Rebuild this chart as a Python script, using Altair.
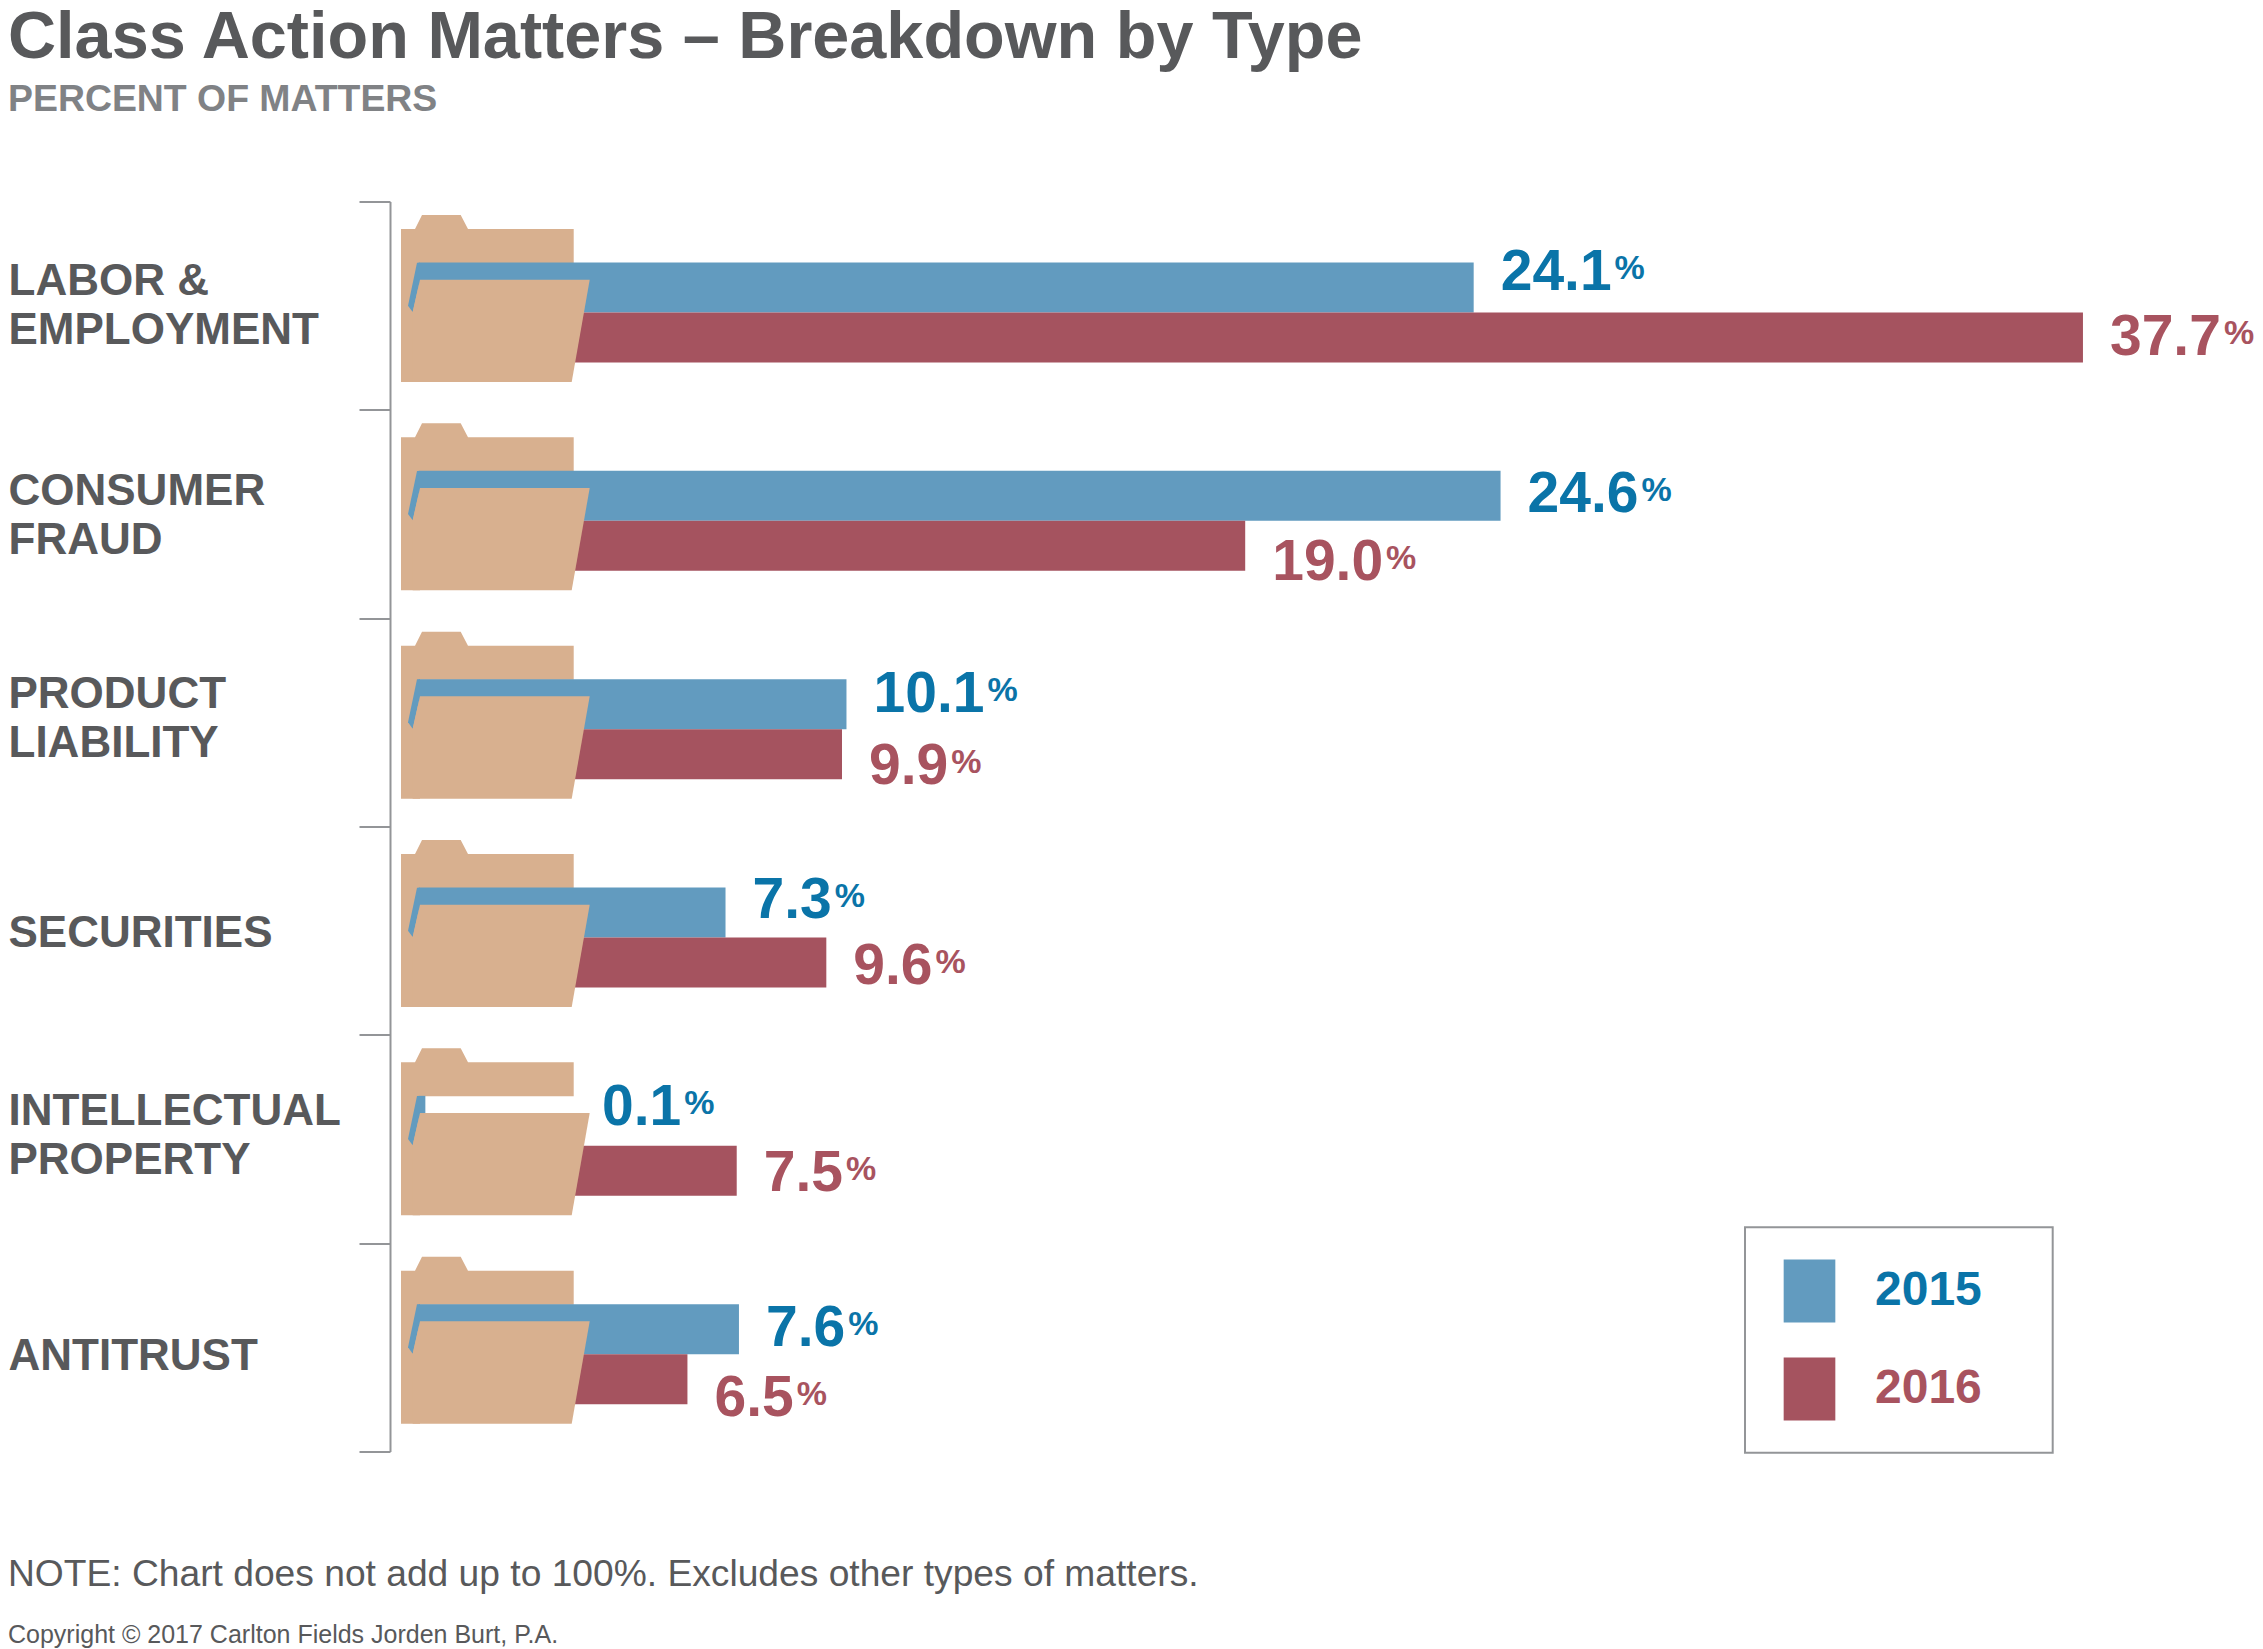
import altair as alt
import pandas as pd

categories = ["LABOR &\nEMPLOYMENT", "CONSUMER\nFRAUD", "PRODUCT\nLIABILITY", "SECURITIES", "INTELLECTUAL\nPROPERTY", "ANTITRUST"]
labels_2015 = ["24.1", "24.6", "10.1", "7.3", "0.1", "7.6"]
labels_2016 = ["37.7", "19.0", "9.9", "9.6", "7.5", "6.5"]
# Bar lengths as they are drawn in the picture, in percent units
drawn_2015 = [24.1, 24.7, 10.1, 7.4, 0.7, 7.7]
drawn_2016 = [37.7, 19.0, 10.0, 9.65, 7.65, 6.55]
years = ["2015", "2016"]
# Hand placement of the value labels (px, relative to their bar's centre)
nudge_2015 = [-15, -1, -9, -12, -13, 0]
nudge_2016 = [0, 17, 13, 4, 3, 20]

BLUE = "#629bbf"
RED = "#a5535f"
BLUE_TEXT = "#0a74a8"
RED_TEXT = "#a8535f"
TAN = "#d8b08f"
DARK = "#58595b"
GREY = "#808285"
AXIS_GREY = "#939598"
FONT = "Liberation Sans"

W, H = 1865, 1250
PX_PER_UNIT = 44.8
X0 = 4
NUM_SIZE = 57
FOLDER_EDGE = 4.04  # labels clear the folder front
BAR_CENTRE = {"2015": 86, "2016": 136}


def num_width(s):
    return sum(0.278 if c == "." else 0.556 for c in s) * NUM_SIZE


rows = []
for i, c in enumerate(categories):
    for y, lab, d, n in ((years[0], labels_2015[i], drawn_2015[i], nudge_2015[i]),
                         (years[1], labels_2016[i], drawn_2016[i], nudge_2016[i])):
        base = max(d, FOLDER_EDGE)
        rows.append(dict(cat=c, year=y, label=lab, end=d, start=0.55, label_x=base,
                         pct_x=base + (num_width(lab) + 3) / PX_PER_UNIT,
                         off=BAR_CENTRE[y] + n, pct_off=BAR_CENTRE[y] + n - 4))
df = pd.DataFrame(rows)
cat_df = pd.DataFrame({"cat": categories})

x_scale = alt.Scale(domain=[-X0 / PX_PER_UNIT, (W - X0) / PX_PER_UNIT], range=[0, W], nice=False, zero=False)
y_enc = alt.Y("cat:N", sort=categories,
              scale=alt.Scale(domain=categories, paddingInner=0, paddingOuter=0),
              axis=alt.Axis(title=None, orient="left", domainColor=AXIS_GREY, domainWidth=2,
                            tickColor=AXIS_GREY, tickWidth=2, tickSize=31, tickBand="extent",
                            labelFont=FONT, labelFontSize=44, labelFontWeight="bold", labelColor=DARK,
                            labelAlign="left", labelBaseline="middle", labelPadding=351,
                            labelLineHeight=49, labelLimit=0, grid=False,
                            labelOffset={"expr": "[-24.5, -23, -27.5, 3, -27.5, 9][round(datum.index * 5)]"},
                            labelExpr="split(datum.label, '\\n')"))

# Paths are in px relative to the band centre (size=4 gives a scale of 1)
c = 104.17


def P(pts):
    return "M" + "L".join(f"{px - 390:.1f},{py - 201.5 - c:.1f}" for px, py in pts) + "Z"


back_path = P([(401, 229), (415, 229), (422, 215), (460.7, 215), (468, 229), (573.7, 229), (573.7, 263),
               (420, 263), (420, 382), (401, 382)])
tail_path = P([(417, 262.7), (408, 305.7), (412.7, 312), (420, 279.7), (420, 262.7)])
front_path = P([(420, 279.7), (589.7, 279.7), (571.7, 382), (412.7, 382), (412.7, 312)])


def icon(path, color):
    return alt.Chart(cat_df).mark_point(shape=path, size=4, filled=True, fill=color, color=color, opacity=1,
                                        strokeWidth=0).encode(x=alt.value(0), y=y_enc)


bar_y = alt.YOffset("year:N", scale=alt.Scale(domain=years, range=[61, 161], paddingInner=0, paddingOuter=0))
bars = alt.Chart(df).mark_bar().encode(
    x=alt.X("start:Q", scale=x_scale, axis=None),
    x2="end:Q",
    y=y_enc,
    yOffset=bar_y,
    color=alt.Color("year:N", scale=alt.Scale(domain=years, range=[BLUE, RED]),
                    legend=alt.Legend(title=None, orient="none", legendX=1388, legendY=1058,
                                      symbolType="M-0.82,-1L0.82,-1L0.82,1L-0.82,1Z", symbolSize=3969,
                                      symbolStrokeWidth=0, labelFont=FONT, labelFontSize=48, labelFontWeight="bold",
                                      labelColor={"expr": f"datum.label == '2015' ? '{BLUE_TEXT}' : '{RED_TEXT}'"},
                                      labelOffset=34, rowPadding=35, padding=0, labelLimit=0)),
)

off_scale = alt.Scale(domain=[0, 200], range=[0, 200], nice=False, zero=False)
text_color = alt.Color("year:N", scale=alt.Scale(domain=years, range=[BLUE_TEXT, RED_TEXT]), legend=None)
nums = alt.Chart(df).mark_text(font=FONT, fontSize=NUM_SIZE, fontWeight="bold", align="left", baseline="middle", dx=27).encode(
    x=alt.X("label_x:Q", scale=x_scale), y=y_enc, yOffset=alt.YOffset("off:Q", scale=off_scale), text="label:N",
    color=text_color)
pcts = alt.Chart(df).mark_text(font=FONT, fontSize=34, fontWeight="bold", align="left", baseline="middle", dx=27, text="%").encode(
    x=alt.X("pct_x:Q", scale=x_scale), y=y_enc, yOffset=alt.YOffset("pct_off:Q", scale=off_scale),
    color=text_color)


def txt(s, x, y, size, color, weight="normal"):
    return alt.Chart(pd.DataFrame({"t": [s]})).mark_text(font=FONT, fontSize=size, fontWeight=weight, align="left",
                                                         baseline="alphabetic", color=color).encode(
        x=alt.value(x), y=alt.value(y), text="t:N")


box = alt.Chart(cat_df.head(1)).mark_rect(fill="white", stroke=AXIS_GREY, strokeWidth=2).encode(
    x=alt.value(1745 - 390), x2=alt.value(2052.7 - 390), y=alt.value(1227.3 - 201.5), y2=alt.value(1452.7 - 201.5))

title = txt("Class Action Matters – Breakdown by Type", -382, 58 - 201.5, 66.6, DARK, "bold")
sub = txt("PERCENT OF MATTERS", -382, 111 - 201.5, 37.4, GREY, "bold")
note = txt("NOTE: Chart does not add up to 100%. Excludes other types of matters.", -382, 1585.5 - 201.5, 37.2, DARK)
copy = txt("Copyright © 2017 Carlton Fields Jorden Burt, P.A.", -382, 1643 - 201.5, 25, DARK)

chart = alt.layer(
    box,
    icon(back_path, TAN),
    bars,
    icon(tail_path, BLUE),
    icon(front_path, TAN),
    nums, pcts, title, sub, note, copy,
).resolve_scale(color="independent", yOffset="independent").properties(
    width=W, height=H,
    padding={"left": 382, "top": 193.5, "right": 0, "bottom": 197},
    autosize=alt.AutoSizeParams(type="none"),
).configure_view(stroke=None)

chart.save("out.html", embed_options={"renderer": "svg", "actions": False})
